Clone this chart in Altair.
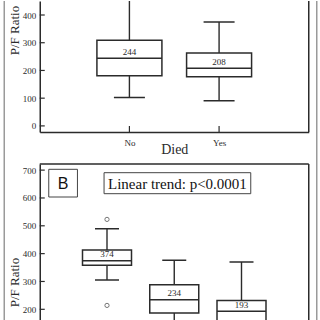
import altair as alt
import pandas as pd

# Panel A: P/F ratio by outcome (Died)
died_groups = ["No", "Yes"]
died_low = [102, 91]
died_q1 = [181, 177]
died_median = [244, 208]
died_q3 = [309, 263]
died_high = [520, 375]

# Panel B: P/F ratio across three ordered groups
trend_groups = ["1", "2", "3"]
trend_low = [305, 110, 50]
trend_q1 = [358, 187, 130]
trend_median = [374, 234, 193]
trend_q3 = [413, 288, 232]
trend_high = [489, 376, 370]
outlier_groups = ["1", "1"]
outlier_values = [523, 214]

top_ticks = [0, 100, 200, 300, 400]
bottom_ticks = [200, 300, 400, 500, 600, 700]
panel_letter = ["B"]
trend_note = ["Linear trend: p<0.0001"]

INK = "#2b2b2b"
FRAME = "#9a9a9a"
SERIF = "Liberation Serif"
W = 269
TOP_H = 131
BOT_H = 157


def summary_frame(groups, low, q1, med, q3, high):
    return pd.DataFrame({"group": groups, "low": low, "q1": q1,
                         "median": med, "q3": q3, "high": high})


def y_axis(values, title_y):
    return alt.Axis(values=values, ticks=False, grid=False,
                    domainColor=INK, domainWidth=1.5,
                    labelFont=SERIF, labelFontSize=9, labelColor=INK,
                    labelPadding=4,
                    title="P/F Ratio", titleFont=SERIF, titleFontSize=13,
                    titleFontWeight="normal", titleColor=INK,
                    titleX=-21, titleY=title_y, titleAngle=270,
                    titleBaseline="alphabetic", titleAlign="center")


def box_panel(df, groups, x_scale, x_axis, y_scale, yax, ticks, height,
              box_w, cap_w):
    x = alt.X("group:N", scale=x_scale, axis=x_axis)
    base = alt.Chart(df)
    y_of = lambda f: alt.Y(f"{f}:Q", scale=y_scale, axis=yax)

    whisk_hi = base.mark_rule(color=INK, strokeWidth=1.4, clip=True).encode(
        x=x, y=y_of("q3"), y2="high:Q")
    whisk_lo = base.mark_rule(color=INK, strokeWidth=1.4, clip=True).encode(
        x=x, y=y_of("low"), y2="q1:Q")
    cap_hi = base.mark_tick(color=INK, opacity=1, size=cap_w, thickness=1.5,
                            orient="horizontal", clip=True).encode(x=x, y=y_of("high"))
    cap_lo = base.mark_tick(color=INK, opacity=1, size=cap_w, thickness=1.5,
                            orient="horizontal", clip=True).encode(x=x, y=y_of("low"))
    box = base.mark_bar(width=box_w, fill="white", stroke=INK,
                        strokeWidth=1.5, clip=True).encode(
        x=x, y=y_of("q1"), y2="q3:Q")
    med = base.mark_tick(color=INK, opacity=1, size=box_w, thickness=1.5,
                         orient="horizontal", clip=True).encode(x=x, y=y_of("median"))
    lab = base.mark_text(font=SERIF, fontSize=9, fill=INK, opacity=1,
                         baseline="bottom", dy=-1.5).encode(
        x=x, y=y_of("median"), text=alt.Text("median:Q", format="d"))

    # inward tick marks on the value axis
    ytick = alt.Chart(pd.DataFrame({"tick": ticks})).mark_rule(
        color=INK, strokeWidth=1.2).encode(
        y=alt.Y("tick:Q", scale=y_scale, axis=yax),
        x=alt.value(0), x2=alt.value(5))

    # figure border running down both panels
    border_l = alt.Chart(pd.DataFrame({"k": [0]})).mark_rule(
        color=FRAME, strokeWidth=1.5).encode(
        x=alt.value(-35.5), y=alt.value(0), y2=alt.value(height + 32))
    border_r = alt.Chart(pd.DataFrame({"k": [0]})).mark_rule(
        color=FRAME, strokeWidth=1.5).encode(
        x=alt.value(W + 8), y=alt.value(0), y2=alt.value(height + 32))
    frame_r = alt.Chart(pd.DataFrame({"k": [0]})).mark_rule(
        color=INK, strokeWidth=1.5).encode(
        x=alt.value(W), y=alt.value(0), y2=alt.value(height))

    return [whisk_hi, whisk_lo, cap_hi, cap_lo, box, med, lab, ytick,
            border_l, border_r, frame_r]


# ---- panel A ----
died = summary_frame(died_groups, died_low, died_q1, died_median, died_q3, died_high)
xa_scale = alt.Scale(type="point", domain=died_groups, padding=1.064)
xa_axis = alt.Axis(ticks=False, grid=False, domainColor=INK, domainWidth=1.5,
                   labelFont=SERIF, labelFontSize=9, labelColor=INK,
                   labelPadding=6, labelAngle=0,
                   title="Died", titleFont=SERIF, titleFontSize=14,
                   titleFontWeight="normal", titleColor=INK,
                   titleY=21, titleBaseline="alphabetic")
ya_scale = alt.Scale(domain=[-22, 450.5], nice=False, zero=False)
layers_a = box_panel(died, died_groups, xa_scale, xa_axis, ya_scale,
                     y_axis(top_ticks, 29), top_ticks, TOP_H, 65, 31)
xtick_a = alt.Chart(pd.DataFrame({"group": died_groups})).mark_rule(
    color=INK, strokeWidth=1.2).encode(
    x=alt.X("group:N", scale=xa_scale, axis=xa_axis),
    y=alt.value(TOP_H), y2=alt.value(TOP_H - 6))
panel_a = alt.layer(*layers_a, xtick_a).properties(width=W, height=TOP_H)

# ---- panel B ----
trend = summary_frame(trend_groups, trend_low, trend_q1, trend_median, trend_q3, trend_high)
xb_scale = alt.Scale(type="point", domain=trend_groups, padding=1.085)
yb_scale = alt.Scale(domain=[158, 722], nice=False, zero=False)
yb_axis = y_axis(bottom_ticks, 118)
layers_b = box_panel(trend, trend_groups, xb_scale, None, yb_scale,
                     yb_axis, bottom_ticks, BOT_H, 49, 24)
outliers = alt.Chart(pd.DataFrame({"group": outlier_groups, "value": outlier_values})).mark_point(
    shape="circle", filled=False, size=18, color="#777777", opacity=1,
    strokeWidth=1, clip=True).encode(
    x=alt.X("group:N", scale=xb_scale, axis=None),
    y=alt.Y("value:Q", scale=yb_scale, axis=yb_axis))
frame_top = alt.Chart(pd.DataFrame({"k": [0]})).mark_rule(
    color=INK, strokeWidth=1.5).encode(
    x=alt.value(0), x2=alt.value(W), y=alt.value(0))

letter_df = pd.DataFrame({"label": panel_letter})
letter_box = alt.Chart(letter_df).mark_rect(
    fill="white", stroke="#444444", strokeWidth=1).encode(
    x=alt.value(9), x2=alt.value(37.7), y=alt.value(5.3), y2=alt.value(33))
letter = alt.Chart(letter_df).mark_text(
    font="Liberation Sans", fontSize=16, fill="#111111",
    align="center", baseline="middle").encode(
    x=alt.value(23.3), y=alt.value(19.5), text="label:N")

note_df = pd.DataFrame({"label": trend_note})
note_box = alt.Chart(note_df).mark_rect(
    fill="white", stroke="#444444", strokeWidth=1).encode(
    x=alt.value(64.3), x2=alt.value(211), y=alt.value(8.7), y2=alt.value(29.7))
note = alt.Chart(note_df).mark_text(
    font=SERIF, fontSize=15, fill="#111111",
    align="center", baseline="middle").encode(
    x=alt.value(137.7), y=alt.value(19.5), text="label:N")

panel_b = alt.layer(*layers_b, outliers, frame_top, letter_box, letter,
                    note_box, note).properties(width=W, height=BOT_H)

chart = alt.vconcat(panel_a, panel_b, spacing=32, bounds="flush").properties(
    padding={"left": 2.75, "top": 0, "right": 0, "bottom": 0},
    background="white",
).configure_view(stroke=None)

chart.save("out.html", embed_options={"renderer": "svg", "actions": False})
